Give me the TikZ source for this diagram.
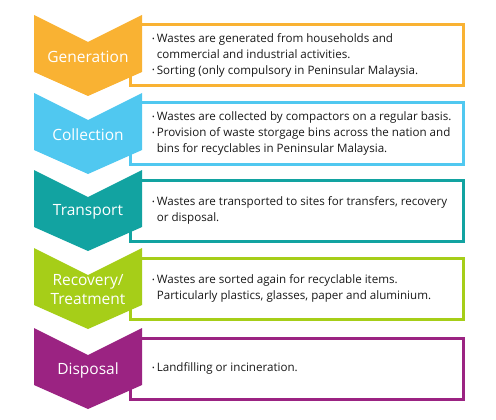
\documentclass[tikz,border=0pt]{standalone}
\usepackage{fontspec}
\setmainfont{Open Sans}
\definecolor{genorange}{HTML}{F9B233}
\definecolor{colblue}{HTML}{50C8F0}
\definecolor{transteal}{HTML}{12A3A1}
\definecolor{recgreen}{HTML}{A6CE18}
\definecolor{dispurple}{HTML}{9B2382}
\newcommand{\bul}{\raisebox{0.25ex}{\fontsize{7}{7}\selectfont\textbullet}}
\tikzset{
 stagebox/.style={line width=3pt, fill=white},
 stagelabel/.style={text=white, font=\fontsize{15.5}{19}\selectfont, align=center, inner sep=0},
 stagetext/.style={anchor=west, inner sep=0, text=black!90, font=\fontsize{11.6}{15.7}\selectfont}
}

\begin{document}
\begin{tikzpicture}[x=1pt,y=-1pt]
\useasboundingbox (0,0) rectangle (496,420);
\foreach \y/\col/\stg in {15/genorange/gen, 93/colblue/col, 170/transteal/trans, 248/recgreen/rec, 328/dispurple/disp} {
 \draw[stagebox, draw=\col] (130,\y+10) rectangle (463,\y+71);
 \fill[\col] (34,\y) -- (88,\y+27) -- (142,\y) -- (142,\y+57) -- (88,\y+81) -- (34,\y+57) -- cycle;
 \coordinate (\stg-mid) at (88,\y+42);
 \coordinate (\stg-txt) at (152,\y+40.5);
}
\node[stagelabel] (gen label) at (gen-mid) {Generation};
\node[stagelabel] (col label) at (col-mid) {Collection};
\node[stagelabel] (trans label) at (trans-mid) {Transport};
\node[stagelabel] (rec label) at (rec-mid) {Recovery/\\Treatment};
\node[stagelabel] (disp label) at (disp-mid) {Disposal};

\node[stagetext] (gen desc) at (gen-txt) {\begin{tabular}{@{}l@{\hspace{2pt}}l@{}}
 \bul & Wastes are generated from households and\\
 & commercial and industrial activities.\\
 \bul & Sorting (only compulsory in Peninsular Malaysia.
\end{tabular}};
\node[stagetext] (col desc) at (col-txt) {\begin{tabular}{@{}l@{\hspace{2pt}}l@{}}
 \bul & Wastes are collected by compactors on a regular basis.\\
 \bul & Provision of waste storgage bins across the nation and\\
 & bins for recyclables in Peninsular Malaysia.
\end{tabular}};
\node[stagetext] (trans desc) at (trans-txt) {\begin{tabular}{@{}l@{\hspace{2pt}}l@{}}
 \bul & Wastes are transported to sites for transfers, recovery\\
 & or disposal.
\end{tabular}};
\node[stagetext] (rec desc) at (rec-txt) {\begin{tabular}{@{}l@{\hspace{2pt}}l@{}}
 \bul & Wastes are sorted again for recyclable items.\\
 & Particularly plastics, glasses, paper and aluminium.
\end{tabular}};
\node[stagetext] (disp desc) at (disp-txt) {\begin{tabular}{@{}l@{\hspace{2pt}}l@{}}
 \bul & Landfilling or incineration.
\end{tabular}};
\end{tikzpicture}
\end{document}
